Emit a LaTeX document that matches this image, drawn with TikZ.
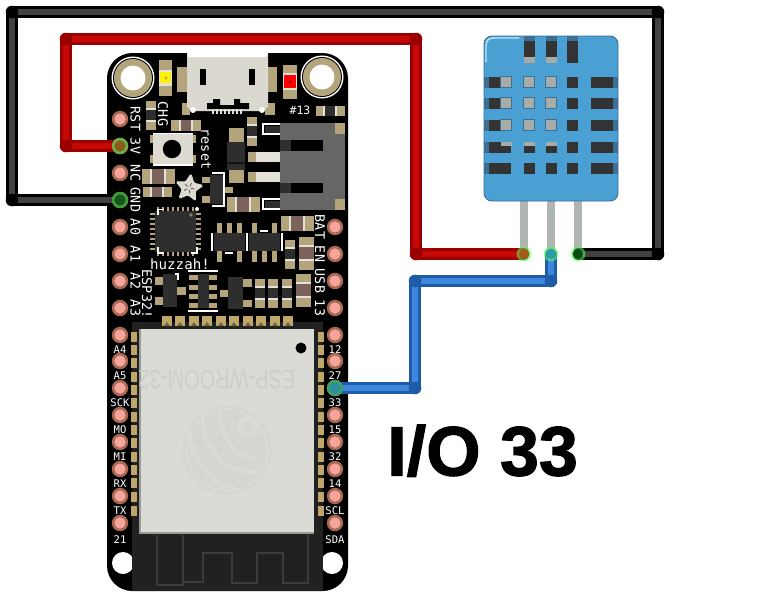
\documentclass[tikz,border=0pt]{standalone}
\usepackage{fontspec}
\setmainfont{Liberation Sans}
\newfontfamily\silk{DejaVu Sans Mono}
\newfontfamily\capfont[BoldFeatures={FakeBold=1.6}]{Liberation Sans}
\usetikzlibrary{shapes.geometric}
\definecolor{khaki}{HTML}{B3A47C}
\definecolor{gold}{HTML}{BFA76A}
\definecolor{brownc}{HTML}{7B625A}
\definecolor{chipw}{HTML}{E4E2D8}
\definecolor{dchip}{HTML}{2E2E2E}
\definecolor{pcb}{HTML}{000000}
\definecolor{ringc}{HTML}{A86A52}
\definecolor{pinkc}{HTML}{F7A59C}
\definecolor{modl}{HTML}{D9DBD4}
\definecolor{modf}{HTML}{D4D6CF}
\definecolor{modd}{HTML}{212121}
\definecolor{senb}{HTML}{4A9FD3}
\definecolor{send}{HTML}{333333}
\definecolor{seng}{HTML}{A6ADA8}
\definecolor{senm}{HTML}{3C6E96}
\definecolor{redo}{HTML}{9A0000}
\definecolor{redi}{HTML}{C60808}
\definecolor{blko}{HTML}{000000}
\definecolor{blki}{HTML}{424242}
\definecolor{bluo}{HTML}{1F5CA8}
\definecolor{blui}{HTML}{3D87DC}
\tikzset{
  lblh/.style={text=white,font=\silk\fontsize{7.9pt}{8pt}\selectfont,inner sep=0pt},
  lblr/.style={text=white,font=\silk\fontsize{10pt}{10pt}\selectfont,inner sep=0pt,rotate=-90},
  wireo/.style={line width=8.4pt,line cap=round,line join=round},
  wirei/.style={line width=5.2pt,line cap=round,line join=round},
}
\newcommand{\hpart}[5]{%
  \fill[khaki] (#1-#3/2,#2-#4/2) rectangle (#1+#3/2,#2+#4/2);
  \fill[chipw] (#1-#3*0.24,#2-#4/2) rectangle (#1+#3*0.24,#2+#4/2);
  \fill[#5] (#1-#3*0.17,#2-#4/2) rectangle (#1+#3*0.17,#2+#4/2);}
\newcommand{\vpart}[5]{%
  \fill[khaki] (#1-#3/2,#2-#4/2) rectangle (#1+#3/2,#2+#4/2);
  \fill[chipw] (#1-#3/2,#2-#4*0.24) rectangle (#1+#3/2,#2+#4*0.24);
  \fill[#5] (#1-#3/2,#2-#4*0.17) rectangle (#1+#3/2,#2+#4*0.17);}
\newcommand{\rct}[5]{\fill[#5] (#1,#2) rectangle (#3,#4);}
\begin{document}
\begin{tikzpicture}[x=0.75pt,y=-0.75pt]
\useasboundingbox (0,0) rectangle (764,608);
\fill[white] (0,0) rectangle (764,608);
% ---------- board
\fill[pcb,rounded corners=19pt] (107,53) rectangle (348,591);
\foreach \hx/\hy in {133/78,322/77}{
  \fill[white] (\hx,\hy) circle[radius=21.5];
  \fill[pcb] (\hx,\hy) circle[radius=20];
  \fill[khaki] (\hx,\hy) circle[radius=19];
  \fill[white] (\hx,\hy) circle[radius=12.5];}
\fill[white] (123,563) circle[radius=11];
\fill[white] (332,563) circle[radius=11];
% ---------- module
\rct{132}{322}{323}{591}{modd}
\rct{139}{329}{314}{534}{modl}
\fill[black] (301,348) circle[radius=5.5];
\fill[gray!70!modl] (139,329) rectangle (140.5,534);
\fill[gray!70!modl] (139,532) rectangle (314,534);
\node[rotate=180,xscale=0.75,text=modl!94!black,inner sep=0pt,font=\fontsize{20pt}{20pt}\selectfont] (modname) at (217,380) {ESP-WROOM-32};
% espressif logo
\begin{scope}
\draw[modf,line width=2pt] (227,450) circle[radius=43];
\fill[modf] (227,450) circle[radius=39.5];
\draw[modl,line width=3pt,line cap=round] (202,416) .. controls (203,452) and (227,473) .. (257,472);
\draw[modl,line width=3pt,line cap=round] (220,414) .. controls (222,440) and (235,455) .. (252,458);
\draw[modl,line width=4pt] (248,427) circle[radius=8];
\draw[modl,line width=3pt,line cap=round] (189,430) .. controls (192,465) and (212,485) .. (240,490);
\end{scope}
% antenna
\draw[line width=2.2pt,color=modd!88!white,line join=miter]
  (157,535) -- (157,585) -- (183,585) -- (183,535)
  (183,582) -- (203,582) -- (203,553) -- (232,553) -- (232,583) -- (257,583) -- (257,553) -- (283,553) -- (283,583) -- (308,583) -- (308,535);
% castellations
\foreach \cx in {167,180,194,207,221,234,248,261,275,288}{
  \rct{\cx-4.7}{316}{\cx+4.7}{326}{gold}
  \fill[gold!60!black] (\cx-3,326) -- (\cx,322) -- (\cx+3,326) -- cycle;}
\foreach \cy in {337,350,363,377,390,403,417,430,443,457,470,483,497,511}{
  \rct{131}{\cy-4.7}{137}{\cy+4.7}{gold}
  \rct{318}{\cy-4.7}{324}{\cy+4.7}{gold}}
% ---------- pins
\foreach \py in {119,146,173,200,227,254,281,308,335,361,388,415,442,469,496,523}{
  \fill[ringc] (120,\py) circle[radius=8.2];
  \fill[pinkc] (120,\py) circle[radius=5.6];}
\foreach \py in {227,254,281,308,335,361,388,415,442,469,496,523}{
  \fill[ringc] (335,\py) circle[radius=8.2];
  \fill[pinkc] (335,\py) circle[radius=5.6];}
% ---------- LEDs
\rct{159}{60}{172}{96}{khaki}
\rct{159}{70}{172}{86}{chipw}
\rct{160}{72}{171}{83}{yellow}
\fill[gold] (166,78) circle[radius=1.6];
\rct{283}{65}{297}{99}{khaki}
\rct{283}{73}{297}{90}{chipw}
\rct{284}{75}{296}{88}{red}
\fill[red!60!black] (290,82) circle[radius=1.6];
% ---------- USB
\rct{177}{67}{187}{92}{khaki}
\rct{268}{67}{277}{92}{khaki}
\rct{182}{103}{190}{115}{khaki}
\rct{265}{103}{275}{115}{khaki}
\fill[chipw!90!gray] (187,53) -- (268,53) -- (268,107) -- (262,111) -- (193,111) -- (187,107) -- cycle;
\fill[white] (187,53) -- (268,53) -- (266,57) -- (189,57) -- cycle;
\rct{200}{69}{206}{85}{black}
\rct{249}{69}{255}{85}{black}
\fill[black] (207,109) -- (207,103) -- (213,103) -- (213,99) -- (220,99) -- (220,105) -- (234,105) -- (234,99) -- (240,99) -- (240,103) -- (249,103) -- (249,109) -- cycle;
\fill[white] (193,110) circle[radius=3];
\fill[white] (262,110) circle[radius=3];
\foreach \ux in {212,216,220,224,228,232,236,240}{\rct{\ux}{109}{\ux+2}{114}{chipw}}
% ---------- button
\rct{150}{135}{155}{143}{khaki}
\rct{150}{155}{155}{163}{khaki}
\rct{191}{135}{196}{143}{khaki}
\rct{191}{155}{196}{163}{khaki}
\rct{153}{133}{193}{165}{chipw!92!gray}
\fill[white] (153,132.5) rectangle (193,134);
\fill[white] (153,164) rectangle (193,166);
\fill[black] (172,149) circle[radius=9.2];
% ---------- discrete parts
\hpart{186}{125}{30}{11}{brownc}
\hpart{158}{176}{33}{15}{brownc}
\hpart{157}{192}{29}{10}{brownc}
\hpart{243}{204}{33}{15}{brownc}
\hpart{330}{111}{29}{10}{dchip}
\vpart{151}{115}{10}{29}{dchip}
\vpart{252}{131}{10}{29}{dchip}
\hpart{297}{223}{33}{15}{brownc}
\vpart{290}{254}{10}{29}{dchip}
\vpart{306}{253}{15}{33}{brownc}
\vpart{260}{293}{10}{29}{dchip}
\vpart{273}{293}{10}{29}{dchip}
\vpart{287}{293}{10}{29}{dchip}
\vpart{303}{290}{15}{33}{brownc}
% diode
\rct{229}{128}{244}{183}{khaki}
\rct{227}{142}{245}{170}{dchip}
\rct{227}{162}{245}{164}{black!60!dchip}
% ---------- JST
\rct{248}{152}{282}{162}{chipw}
\rct{248}{152}{256}{162}{khaki}
\rct{248}{172}{282}{182}{chipw}
\rct{248}{172}{256}{182}{khaki}
\draw[white,line width=0.9pt] (282,124) -- (263,124) -- (263,134) -- (282,134);
\draw[white,line width=0.9pt] (282,199) -- (263,199) -- (263,209) -- (282,209);
\rct{265}{125.5}{282}{132.5}{dchip}
\rct{265}{200.5}{282}{207.5}{dchip}
\rct{280}{123}{345}{210}{gray!80!black}
\rct{335}{123}{345}{134}{khaki}
\rct{335}{199}{345}{210}{khaki}
\rct{280}{140}{291}{151}{dchip}
\rct{291}{140}{323}{151}{black}
\rct{280}{183}{291}{193}{dchip}
\rct{291}{183}{323}{193}{black}
% ---------- star and small transistor
\node[star,star points=5,star point ratio=2.1,fill=chipw!92!gray,draw=chipw!92!gray,line width=1pt,rounded corners=1pt,minimum size=21pt,inner sep=0pt,rotate=-8] (logostar) at (189,188) {};
\foreach \a in {82,154,226,298,10}{\draw[gray!70!black,line width=0.6pt] (189,188) ++(\a:2) -- ++(\a:3.5);}
\rct{202}{177}{212}{183}{khaki}
\rct{202}{196}{212}{203}{khaki}
\rct{221}{187}{233}{193}{khaki}
\rct{210}{175}{223}{204}{dchip}
\draw[white,line width=0.8pt] (212,173) -- (224,173) -- (224,206) -- (212,206);
% ---------- QFN
\foreach \q in {158,163,168,173,178,183,188,193}{
  \rct{\q-1.2}{207}{\q+1.2}{256}{khaki}}
\foreach \q in {214,219,224,229,234,239,244,249}{
  \rct{150}{\q-1.2}{201}{\q+1.2}{khaki}}
\rct{155}{211}{196}{252}{dchip}
\draw[white,line width=0.8pt] (158,215) -- (158,209.5) -- (164,209.5);
\draw[white,line width=0.8pt] (158,247) -- (158,253) -- (164,253);
\draw[white,line width=0.8pt] (191,253) -- (197,253) -- (197,247);
\fill[white] (197,209) circle[radius=2];
\fill[gray] (191,215) circle[radius=1.8];
% ---------- SOT pairs
\foreach \q in {219,229,239}{\rct{\q-2.5}{223}{\q+2.5}{233}{khaki}}
\foreach \q in {219,239}{\rct{\q-2.5}{251}{\q+2.5}{262}{khaki}}
\foreach \q in {254,274}{\rct{\q-2.5}{223}{\q+2.5}{233}{khaki}}
\foreach \q in {254,264,274}{\rct{\q-2.5}{251}{\q+2.5}{262}{khaki}}
\rct{214}{233}{245}{251}{dchip}
\rct{249}{233}{280}{251}{dchip}
\foreach \q in {212,247,282}{\draw[white,line width=0.9pt] (\q,233) -- (\q,251);}
\draw[white,line width=0.9pt] (225,253) -- (233,253);
\draw[white,line width=0.9pt] (260,231) -- (268,231);
% ---------- lower parts
\rct{155}{277}{163}{285}{khaki}
\rct{155}{297}{163}{305}{khaki}
\rct{177}{287}{186}{295}{khaki}
\rct{163}{274}{177}{307}{dchip}
\draw[white,line width=0.8pt] (175,274) -- (178,274) -- (178,280);
\foreach \q in {277,287,296,305}{\rct{189}{\q-2.5}{217}{\q+2.5}{khaki}}
\rct{198}{274}{209}{308}{dchip}
\draw[white,line width=1pt] (188,271) -- (218,271);
\draw[white,line width=1pt] (188,311) -- (218,311);
\rct{220}{290}{228}{297}{khaki}
\rct{243}{279}{252}{287}{khaki}
\rct{243}{300}{252}{307}{khaki}
\rct{228}{277}{243}{309}{dchip}
% ---------- board labels
\foreach \t/\y/\n in {RST/119/a,3V/146/b,NC/173/c,GND/200/d,A0/227/e,A1/254/f,A2/281/g,A3/308/h}{
  \node[lblr] (left\n) at (135.5,\y) {\t};}
\foreach \t/\y/\n in {BAT/227/a,EN/254/b,USB/281/c,13/308/d}{
  \node[lblr] (right\n) at (320,\y) {\t};}
\foreach \t/\y/\n in {A4/350/a,A5/376/b,SCK/403/c,MO/430/d,MI/457/e,RX/484/f,TX/511/g,21/540/h}{
  \node[lblh] (hleft\n) at (120,\y) {\t};}
\foreach \t/\y/\n in {12/350/a,27/376/b,33/403/c,15/430/d,32/457/e,14/484/f,SCL/511/g,SDA/540/h}{
  \node[lblh] (hright\n) at (335,\y) {\t};}
\node[lblr] (chg) at (163,114) {CHG};
\node[lblr] (rst2) at (206,149) {reset};
\node[lblr] (esp) at (147,294) {ESP32!};
\node[lblh,font=\silk\fontsize{10.6pt}{11pt}\selectfont] (huz) at (180,264) {huzzah!};
\node[lblh,font=\silk\fontsize{8.6pt}{9pt}\selectfont] (n13) at (300,110) {\#13};
% ---------- sensor
\foreach \q in {524,551,578}{\rct{\q-4}{198}{\q+4}{254}{seng!90!white}}
\fill[senb,draw=senm,line width=0.7pt,rounded corners=6pt] (484,36) rectangle (618,201);
\draw[white!70!senb,line width=1.1pt,line cap=round] (486,62) -- (486,46) .. controls (486,40) and (489,38) .. (494,38) -- (519,38);
\foreach \q in {529,551,572}{
  \rct{\q-5.5}{37}{\q+5.5}{63}{send}
  \rct{\q-5.5}{36}{\q+5.5}{41}{senm}}
\rct{523.5}{57}{534.5}{63}{seng}
\rct{545.5}{57}{556.5}{63}{seng}
\foreach \ry in {82,103,125,147,168}{
  \rct{484}{\ry-5.5}{511}{\ry+5.5}{send}
  \rct{484}{\ry-5.5}{489}{\ry+5.5}{senm}
  \rct{591}{\ry-5.5}{618}{\ry+5.5}{send}
  \rct{613}{\ry-5.5}{618}{\ry+5.5}{senm}
  \rct{566.5}{\ry-5.5}{577.5}{\ry+5.5}{send}
  \rct{523.5}{\ry-5.5}{534.5}{\ry+5.5}{send}
  \rct{545.5}{\ry-5.5}{556.5}{\ry+5.5}{send}}
\foreach \ry in {82,103,125}{
  \foreach \sx in {500.5,523.5,545.5}{
    \fill[seng,draw=senm,line width=0.5pt] (\sx,\ry-5.5) rectangle (\sx+11,\ry+5.5);}}
\foreach \sx in {500.5,523.5,545.5}{\rct{\sx}{141.5}{\sx+11}{146}{seng}}
% ---------- wire coordinates
\coordinate (pin3v) at (120,146);
\coordinate (pingnd) at (120,200);
\coordinate (pin33) at (335,388);
\coordinate (sensa) at (524,254);
\coordinate (sensb) at (551,254);
\coordinate (sensc) at (578,254);
\coordinate (ra) at (66,146);
\coordinate (rb) at (66,39);
\coordinate (rc) at (416,39);
\coordinate (rd) at (416,254);
\coordinate (ka) at (12,200);
\coordinate (kb) at (12,12);
\coordinate (kc) at (658,12);
\coordinate (kd) at (658,254);
\coordinate (ba) at (415,388);
\coordinate (bb) at (415,281);
\coordinate (bc) at (551,281);
% ---------- wires
\draw[wireo,color=blko] (pingnd) -- (ka) -- (kb) -- (kc) -- (kd) -- (sensc);
\draw[wirei,color=blki] (pingnd) -- (ka) -- (kb) -- (kc) -- (kd) -- (sensc);
\foreach \c in {ka,kb,kc,kd}{\fill[blko] (\c) circle[radius=6.3];}
\draw[wireo,color=redo] (pin3v) -- (ra) -- (rb) -- (rc) -- (rd) -- (sensa);
\draw[wirei,color=redi] (pin3v) -- (ra) -- (rb) -- (rc) -- (rd) -- (sensa);
\foreach \c in {ra,rb,rc,rd}{\fill[redo] (\c) circle[radius=6.3];}
\draw[wireo,color=bluo] (pin33) -- (ba) -- (bb) -- (bc) -- (sensb);
\draw[wirei,color=blui] (pin33) -- (ba) -- (bb) -- (bc) -- (sensb);
\foreach \c in {ba,bb,bc}{\fill[bluo] (\c) circle[radius=6.3];}
% ---------- connection glows
\foreach \c/\rg/\mid in {pin3v/6DB04A/8B5A1E,pingnd/3E9B3E/15561F,pin33/3FA060/2E8FA0}{
  \definecolor{ringtmp}{HTML}{\rg}\definecolor{midtmp}{HTML}{\mid}
  \fill[ringtmp] (\c) circle[radius=8.2];
  \fill[midtmp] (\c) circle[radius=5.6];}
\foreach \c/\mid in {sensa/A05A1A,sensb/2E9CA8,sensc/0A4A14}{
  \definecolor{midtmp}{HTML}{\mid}
  \fill[green!65!white,opacity=.55] (\c) circle[radius=7.5];
  \fill[midtmp] (\c) circle[radius=5];}
% ---------- caption
\node[anchor=base west,inner sep=0pt,font=\capfont\bfseries\fontsize{52.5pt}{52pt}\selectfont] (caption) at (387,475.5) {I/O 33};
\end{tikzpicture}
\end{document}
